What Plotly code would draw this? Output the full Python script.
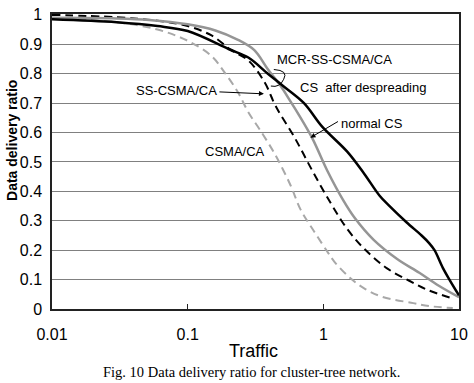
import plotly.graph_objects as go

# MCR-SS-CSMA/CA, CS after despreading (black solid)
desp_x = [0.01, 0.03, 0.06, 0.1, 0.2, 0.28, 0.39, 0.5, 0.72, 0.98, 1.5, 2.0, 2.6, 3.0, 4.1, 5.3, 6.0, 6.6, 7.6, 8.5, 10]
desp_y = [0.985, 0.975, 0.962, 0.945, 0.884, 0.855, 0.80, 0.76, 0.70, 0.62, 0.535, 0.46, 0.385, 0.355, 0.295, 0.25, 0.225, 0.20, 0.14, 0.10, 0.046]

# MCR-SS-CSMA/CA, normal CS (gray solid)
normal_x = [0.01, 0.03, 0.052, 0.1, 0.16, 0.235, 0.31, 0.39, 0.485, 0.565, 0.65, 0.83, 1.07, 1.4, 1.7, 2.35, 3.5, 5.1, 7.1, 10]
normal_y = [0.99, 0.988, 0.983, 0.968, 0.947, 0.915, 0.88, 0.815, 0.758, 0.71, 0.665, 0.58, 0.47, 0.37, 0.31, 0.235, 0.17, 0.123, 0.079, 0.04]

# SS-CSMA/CA (black dashed)
ss_x = [0.01, 0.03, 0.06, 0.1, 0.15, 0.21, 0.28, 0.37, 0.445, 0.614, 0.83, 1.13, 1.5, 2.0, 2.93, 4.3, 6.0, 9.0]
ss_y = [1.0, 0.992, 0.98, 0.962, 0.93, 0.88, 0.845, 0.77, 0.69, 0.583, 0.47, 0.361, 0.272, 0.205, 0.139, 0.096, 0.063, 0.036]

# CSMA/CA (gray dashed)
csma_x = [0.01, 0.03, 0.06, 0.1, 0.15, 0.19, 0.236, 0.28, 0.34, 0.44, 0.574, 0.68, 0.86, 1.07, 1.2, 1.57, 2.0, 2.7, 4.6, 6.0, 9.0]
csma_y = [0.99, 0.975, 0.95, 0.912, 0.86, 0.80, 0.735, 0.669, 0.61, 0.526, 0.42, 0.338, 0.262, 0.195, 0.162, 0.106, 0.07, 0.042, 0.02, 0.01, 0.003]

x_ticks = [0.01, 0.1, 1, 10]
x_ticktext = ["0.01", "0.1", "1", "10"]
y_ticks = [0, 0.1, 0.2, 0.3, 0.4, 0.5, 0.6, 0.7, 0.8, 0.9, 1.0]
y_ticktext = ["0", "0.1", "0.2", "0.3", "0.4", "0.5", "0.6", "0.7", "0.8", "0.9", "1"]

fig = go.Figure()
fig.add_trace(go.Scatter(x=csma_x, y=csma_y, mode="lines", line=dict(color="#a8a8a8", width=2, dash="8px,5px", shape="spline"), showlegend=False))
fig.add_trace(go.Scatter(x=ss_x, y=ss_y, mode="lines", line=dict(color="#000000", width=2, dash="8px,5px", shape="spline"), showlegend=False))
fig.add_trace(go.Scatter(x=normal_x, y=normal_y, mode="lines", line=dict(color="#959595", width=2.5, shape="spline"), showlegend=False))
fig.add_trace(go.Scatter(x=desp_x, y=desp_y, mode="lines", line=dict(color="#000000", width=2.5, shape="spline"), showlegend=False))

lab_font = dict(family="Liberation Sans, Arial", size=13, color="black")

def px2paper(px, py):
    return (px - 52) / 411, (309 - py) / 303

annots = []
for text, (px, py) in [("MCR-SS-CSMA/CA", (337, 53)), ("CS\u00a0 after despreading", (366, 81)),
                       ("normal CS", (375, 118)), ("SS-CSMA/CA", (178, 85)), ("CSMA/CA", (237, 147))]:
    xp, yp = px2paper(px, py)
    annots.append(dict(x=xp, y=yp, xref="paper", yref="paper", text=text, showarrow=False,
                       font=lab_font, xanchor="center", yanchor="middle"))

# arrows
xp, yp = px2paper(266, 88)
annots.append(dict(x=xp, y=yp, xref="paper", yref="paper", text="", showarrow=True, ax=-46, ay=-2,
                   arrowhead=2, arrowsize=1, arrowwidth=1, arrowcolor="black"))
xp, yp = px2paper(313, 133)
annots.append(dict(x=xp, y=yp, xref="paper", yref="paper", text="", showarrow=True, ax=29, ay=-17,
                   arrowhead=2, arrowsize=1, arrowwidth=1, arrowcolor="black"))

# axis titles & caption
xp, yp = px2paper(255, 352)
annots.append(dict(x=xp, y=yp, xref="paper", yref="paper", text="Traffic", showarrow=False,
                   font=dict(family="Liberation Sans, Arial", size=18, color="black"), xanchor="center", yanchor="middle"))
xp, yp = px2paper(253, 374)
annots.append(dict(x=xp, y=yp, xref="paper", yref="paper", text="Fig. 10 Data delivery ratio for cluster-tree network.",
                   showarrow=False, font=dict(family="Liberation Serif, Times New Roman", size=14.5, color="black"),
                   xanchor="center", yanchor="middle"))
xp, yp = px2paper(11, 136)
annots.append(dict(x=xp, y=yp, xref="paper", yref="paper", text="<b>Data delivery ratio</b>", showarrow=False,
                   textangle=-90, font=dict(family="Liberation Sans, Arial", size=14, color="black"),
                   xanchor="center", yanchor="middle"))

# loop mark
p = [px2paper(*c) for c in [(276, 63), (291, 64), (286, 73), (282, 82), (273, 80)]]
path = "M {},{} Q {},{} {},{} Q {},{} {},{}".format(p[0][0], p[0][1], p[1][0], p[1][1], p[2][0], p[2][1],
                                                   p[3][0], p[3][1], p[4][0], p[4][1])

fig.update_layout(
    width=474, height=383,
    margin=dict(l=52, r=11, t=6, b=74),
    paper_bgcolor="white", plot_bgcolor="white",
    annotations=annots,
    shapes=[dict(type="path", path=path, xref="paper", yref="paper", line=dict(color="black", width=1))],
    xaxis=dict(type="log", range=[-2, 1], tickvals=x_ticks, ticktext=x_ticktext, showgrid=False,
               showline=True, linecolor="#222222", linewidth=1.5, mirror=True,
               ticks="inside", ticklen=5, tickcolor="#222222",
               tickfont=dict(family="Liberation Sans, Arial", size=16, color="black"), ticklabelstandoff=10,
               zeroline=False),
    yaxis=dict(range=[0, 1.003], tickvals=y_ticks, ticktext=y_ticktext, showgrid=True, gridcolor="#808080", gridwidth=1,
               showline=True, linecolor="#222222", linewidth=1.5, mirror=True, ticks="",
               tickfont=dict(family="Liberation Sans, Arial", size=16, color="black"), ticklabelstandoff=5,
               zeroline=False),
)

fig.write_html("out.html", config={"displayModeBar": False},
               post_script="document.body.style.margin='0';document.body.style.overflow='hidden';")
